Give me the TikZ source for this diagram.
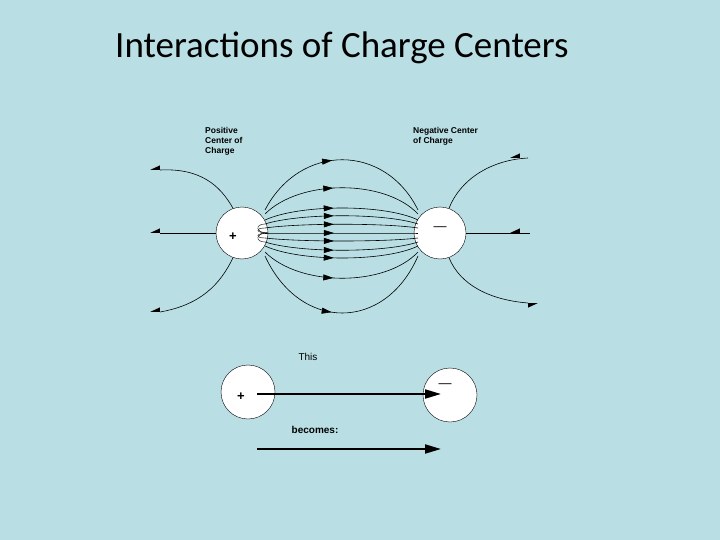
\documentclass[tikz,border=0pt]{standalone}
\usepackage{fontspec}
\setmainfont{Carlito}
\newfontfamily\lab{Liberation Sans}
\usetikzlibrary{arrows.meta,decorations.markings}
\definecolor{bg}{RGB}{185,223,228}
\tikzset{
 fl/.style={semithick,postaction={decorate},decoration={markings,mark=at position 0.45 with {\arrow{Triangle[length=10pt,width=6pt]}}}},
 ol/.style={semithick},
 chg/.style={circle,draw,thin,fill=white,minimum size=52pt,inner sep=0pt},
 lbl/.style={font=\lab\bfseries\fontsize{8.5}{10}\selectfont,align=left,anchor=north west,inner sep=0pt},
 big/.style={line width=2pt,-{Triangle[length=16pt,width=9pt]}}
}
\begin{document}
\begin{tikzpicture}[x=1pt,y=-1pt]
\fill[bg] (0,0) rectangle (720,540);
\useasboundingbox (0,0) rectangle (720,540);
\node[font=\fontsize{37}{40}\selectfont,anchor=west,inner sep=0pt] (title) at (115,48) {Interactions of Charge Centers};
\node[chg] (p) at (242,233) {};
\node[chg] (n) at (440,233) {};
\node[lbl] (lp) at (205,127) {Positive\\Center of\\Charge};
\node[lbl] (ln) at (413,127) {Negative Center\\of Charge};
% outer field lines
\draw[ol] (p.110) .. controls (220,185) and (200,168) .. (160,170);
\draw[ol] (p.250) .. controls (220,285) and (200,305) .. (160,312);
\draw[ol] (p.west) -- (160,233);
\draw[ol] (n.70) .. controls (460,180) and (490,160) .. (528,158);
\draw[ol] (n.290) .. controls (460,285) and (490,300) .. (528,303);
\draw[ol] (n.east) -- (530,233);
\foreach \x/\y/\a in {155/170/180,155/312/180,155/233/180,515/158/180,515/233/180,533/303/0}
  \fill (\x,\y) ++(\a:5) -- ++(\a+155:11) -- ++(\a-90:4.6) -- cycle;
% field lines
\foreach \sy/\d in {210/-67, 214/-35, 220/-16, 224/-11, 228/-5, 233/0, 238/4, 242/11, 246/16, 252/35, 256/76}
  \draw[fl] (265,\sy) .. controls (300,\sy+\d) and (385,\sy+\d) .. (418,\sy);
\foreach \y in {224,228,238,242}
  \draw[thin] (265,\y) .. controls (255,\y) and (255,233) .. (268,233);
\node[font=\lab\bfseries\fontsize{13}{13}\selectfont] (pp) at (233,237) {+};
\node[font=\lab\fontsize{13}{13}\selectfont] (nm) at (440,229) {—};
% bottom
\node[chg,minimum size=54pt] (p2) at (248,392) {};
\node[chg,minimum size=54pt] (n2) at (450,395) {};
\node[font=\lab\bfseries\fontsize{13}{13}\selectfont] (pp2) at (241,397) {+};
\node[font=\lab\fontsize{13}{13}\selectfont] (nm2) at (445,386) {—};
\node[font=\lab\fontsize{10}{11}\selectfont] (this) at (308,357) {This};
\node[font=\lab\bfseries\fontsize{10}{11}\selectfont] (bec) at (315,430) {becomes:};
\coordinate (a1) at (257,394); \coordinate (a2) at (441,394);
\coordinate (b1) at (257,449); \coordinate (b2) at (441,449);
\draw[big] (a1) -- (a2);
\draw[big] (b1) -- (b2);
\end{tikzpicture}
\end{document}
